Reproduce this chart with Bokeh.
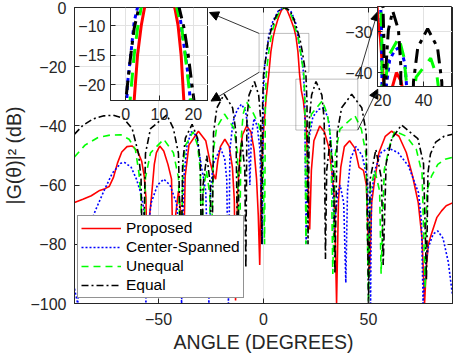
from bokeh.plotting import figure
from bokeh.models import (Range1d, FixedTicker, Legend, LegendItem, Arrow,
                          NormalHead, BoxAnnotation, GridBox, LinearAxis)
from bokeh.embed import file_html
from bokeh.resources import INLINE

FONT = "Liberation Sans"
TXT = "#262626"

# ---------------- data (angle in degrees, |G|^2 in dB)
prop_deg = [-90, -86, -82, -78, -75.5, -73.5, -71.5, -69.5, -67.5, -65, -62.5, -60, -58, -56.8, -56, -55.2,
            -54.2, -53.3, -52, -51, -49.4, -47.5, -45.5, -43.8, -42.8,
            -41.8, -40.5, -39.3, -38.3,
            -37.3, -35.5, -31, -27.5, -25.5, -24, -22.8, -21.8,
            -20.5, -18.4, -16.3, -14.8, -13.9, -13.3,
            -12.3, -11, -10, -8, -6, -4.5, -3.3, -2.5, -1.8,
            -1.2, 0, 1.2, 2.5, 3.5, 4.6, 5.5, 7, 8.5, 9.9, 11.3, 12.8, 14.6, 15.5, 16.4, 17.2, 18, 19, 20.5, 22,
            22.8, 24, 26.8, 29, 31, 32.5, 33.8, 34.8,
            35.7, 36.8, 38.5, 41, 43.5, 45.5, 47.6, 49, 50.5,
            51.5, 53, 55, 58, 61, 64.5, 68, 71, 73.7, 75.5, 76.7,
            77.5, 78.5, 80, 82.5, 84.8, 87, 90]
prop_db = [-65.9, -64.8, -63.6, -61.8, -61.2, -60.5, -57.5, -52.5, -48.8, -47, -46.8, -48.5, -52, -57, -64, -95,
           -70, -63.6, -53, -49, -46.8, -48.5, -53, -58, -95,
           -70, -62, -70, -95,
           -57, -46.5, -41.8, -45, -52, -56, -58, -52,
           -47, -44.5, -47, -54, -65, -99,
           -62, -48, -43, -40, -42, -48, -58, -70, -87,
           -60, -42, -31, -22.7, -15, -10, -7.2, -3.6, -1, 0, -1, -3.6, -7.2, -10, -15, -22.7, -28, -31.6, -42, -75,
           -55, -45, -40, -42, -47, -55, -65, -100,
           -65, -54, -47, -45, -47.5, -54, -55, -60, -90,
           -66, -58, -49, -43.5, -41.8, -43.5, -49, -57, -66, -78, -100,
           -88, -80, -76.4, -71, -68.7, -67, -66]

cs_deg = [-90, -88.5, -86.5, -83, -80, -76, -72, -68, -66, -63, -60.5, -58.5, -57, -56,
          -55, -53.5, -50.5, -47.5, -44.5, -41.5, -40, -39,
          -38, -36.5, -34.5, -33, -32, -31, -29.5, -27.5, -26,
          -25.2, -24, -20.5, -18.5, -17.5, -16.7,
          -16, -14.5, -12.5, -10.5, -8.5, -7.2, -6.5,
          -5.8, -4.5, -3, -1.7, -0.6,
          -0.1, 0.5, 1.5, 2.5, 4.5, 7, 10, 13, 15.2, 16.9, 17.8, 18.8, 19.6, 20.3,
          21.2, 23.5, 26, 28.8, 31, 32.4, 33.5, 35.5, 36.5, 38.2, 39.2,
          40, 41.5, 44, 47, 49.5, 51,
          51.4, 53, 56, 59.5, 64, 69, 73.8, 75.2, 76,
          77, 78.5, 80.8, 83, 85.5, 88, 89.5, 90]
cs_db = [-95, -100, -82, -74, -68.5, -62, -56, -52.6, -52.4, -54, -58, -62.5, -68, -100,
         -75, -66, -60, -58, -60, -66, -75, -100,
         -58, -47, -42, -42.5, -43.5, -47.4, -54, -62, -100,
         -62, -53, -47.5, -51, -58, -100,
         -48, -38.5, -34.5, -32.7, -35, -42, -60,
         -44, -37.5, -40, -48, -80,
         -30, -20, -15, -9.4, -4.5, -1.2, 0, -1.2, -4.8, -12, -15.5, -20, -30, -80,
         -46, -37, -34.5, -33.8, -38, -48, -75, -62, -60, -66, -93,
         -62, -51, -47, -50, -58, -100,
         -63.6, -55, -49, -47.5, -49, -53.5, -62.6, -72, -100,
         -88, -81, -76.5, -75.5, -78, -86, -94.5, -97]

uneq_deg = [-90, -85, -79, -73, -68, -64, -61, -59.3, -58.3, -57.5,
            -56.2, -53.8, -47.5, -42.9, -40.5, -39.2,
            -38.5, -37.2, -33.5, -31.4, -30.1, -29.4,
            -28.8, -27.2, -25.6, -25,
            -24, -22.3, -18.6, -14.2, -12.4, -11.5,
            -10.7, -9.7, -8, -5, -2, -0.3, 0.5,
            0.9, 1.3, 2.5, 3.5, 4.5, 6.2, 7.8, 10, 12.2, 13.8, 15.2, 16.6, 17.6, 19.2, 19.7, 20.2,
            21.1, 22.8, 28, 30.4, 32.1, 33,
            34.2, 36.4, 43.5, 46.6, 48.8, 50,
            50.7, 53, 55.3, 56,
            57.5, 60.2, 62.5, 68, 72.8, 75.5, 77,
            77.8, 80, 83, 86.5, 90]
uneq_db = [-50.5, -46.5, -44, -43.1, -43, -44.5, -48, -56, -65, -95,
           -57.5, -49.1, -44.5, -49.1, -57.5, -92,
           -55, -46.6, -42, -46.6, -55, -94,
           -63, -55, -63, -96,
           -49, -40.6, -36, -40.6, -49, -90,
           -45, -36, -32, -35.5, -40, -50, -80,
           -32, -22.7, -15, -10.5, -7.2, -3.6, -1, 0, -1, -3.6, -7.2, -10.5, -15, -22.7, -32, -80,
           -44.5, -36.1, -31.5, -36.1, -44.5, -90,
           -49.5, -41.1, -36.5, -41.1, -49.5, -100,
           -62, -55, -62, -90,
           -54.8, -46.4, -41.8, -43.5, -48, -56, -95,
           -62, -57, -53, -51.3, -50.6]

eq_deg = [-90, -86, -81, -76, -71.5, -66.5, -62.5, -59.5, -58.3, -57.5,
          -56.2, -53.8, -46, -42.9, -40.5, -39.2,
          -38.5, -37.2, -34, -31.4, -30.1, -29.4,
          -28.8, -27, -25.3, -24.7,
          -23.8, -22.2, -18.7, -14.7, -13.1, -12.2,
          -11.7, -10.3, -8.9, -8.4,
          -7.9, -6.9, -4.3, -2.3, -1.3, -0.8,
          -0.4, 0, 1.5, 2.5, 3.8, 5.5, 7.5, 10, 12.5, 14.3, 15.9, 17.3, 18.5, 20.2, 20.7, 21.2,
          21.8, 22.9, 25, 27.8, 28.9, 29.5,
          30.1, 31.7, 33.4, 34,
          35.1, 37.2, 42, 46.8, 48.9, 50,
          50.8, 53.5, 56.2, 57,
          58.4, 61.1, 65.7, 73.5, 76.2, 77.6,
          78.3, 79.5, 82, 86, 90]
eq_db = [-42.8, -39.8, -37.6, -36.6, -36.4, -37.5, -41, -49.4, -58, -95,
         -49.3, -40.9, -36.3, -40.9, -49.3, -90,
         -52.5, -44.1, -39.5, -44.1, -52.5, -92,
         -60, -50, -60, -95,
         -42.3, -33.9, -29.3, -33.9, -42.3, -90,
         -55, -45, -55, -88,
         -38, -29.6, -25, -29.6, -38, -80,
         -32, -22.7, -15, -10.5, -7.2, -3.6, -1, 0, -1, -3.6, -7.2, -10.5, -15, -22.7, -32, -80,
         -38, -29.6, -25, -29.6, -38, -85,
         -55, -45, -55, -90,
         -42.3, -33.9, -29.3, -33.9, -42.3, -100,
         -58, -48, -58, -87,
         -52.7, -44.3, -39.7, -44.3, -52.7, -92,
         -56, -49.5, -45.5, -43.5, -42.8]

names = ["Proposed", "Center-Spanned", "Unequal", "Equal"]
x_ticks = [-50, 0, 50]
y_ticks = [-100, -80, -60, -40, -20, 0]

# zoomed windows (main-plot boxes) and inset axis windows
box1 = (-2.1, 21.6, -21.9, -8.75)
box2 = (15.4, 44.9, -41.4, -24.2)
inset1_x, inset1_y = (-4.5, 24.5), (-22.7, -6.95)
inset2_x, inset2_y = (17.6, 54.1), (-43.4, -23.9)
inset1_xt, inset1_yt = [0, 10, 20], [-20, -15, -10]
inset2_xt, inset2_yt = [20, 40], [-40, -30]
arrows = [(-2.1, -8.75, -25.7, -1.7), (-2.1, -21.9, -25.0, -31.6),
          (44.9, -24.2, 54.4, -1.4), (44.9, -41.4, 54.4, -27.6)]

styles = [("#ff0000", "solid"), ("#0000ff", "2 2"), ("#00ff00", "7 5"), ("#000000", "7 3 2 3")]
data = [(prop_deg, prop_db), (cs_deg, cs_db), (uneq_deg, uneq_db), (eq_deg, eq_db)]


def style_axes(fig, fs):
    for ax in (fig.xaxis[0], fig.yaxis[0]):
        ax.major_label_text_font = FONT
        ax.major_label_text_font_size = fs
        ax.major_label_text_color = TXT
        ax.axis_line_color = TXT
        ax.major_tick_line_color = TXT
        ax.major_tick_in = 5
        ax.major_tick_out = 0
        ax.minor_tick_line_color = None
    fig.grid.grid_line_color = "#e2e2e2"
    fig.outline_line_color = TXT
    fig.outline_line_alpha = 1.0


p = figure(width=474, height=355, x_range=Range1d(-90, 90), y_range=Range1d(-100, 0),
           output_backend="svg", toolbar_location=None,
           min_border_left=73, min_border_right=22, min_border_top=7, min_border_bottom=52)
style_axes(p, "16px")
p.xaxis.ticker = FixedTicker(ticks=x_ticks)
p.yaxis.ticker = FixedTicker(ticks=y_ticks)
p.xaxis.major_label_standoff = 9
p.yaxis.major_label_standoff = 8
p.xaxis.axis_label = "ANGLE (DEGREES)"
p.yaxis.axis_label = "|G(θ)|² (dB)"
for ax in (p.xaxis[0], p.yaxis[0]):
    ax.axis_label_text_font = FONT
    ax.axis_label_text_font_size = "19.5px"
    ax.axis_label_text_font_style = "normal"
    ax.axis_label_text_color = TXT
p.xaxis.axis_label_standoff = 3
p.yaxis.axis_label_standoff = 2

# box ticks on the top and right edges (no labels)
for loc, ticks in (("above", x_ticks), ("right", y_ticks)):
    bax = LinearAxis(ticker=FixedTicker(ticks=ticks),
                     major_label_overrides={t: "" for t in ticks},
                     major_label_standoff=0, major_tick_in=5, major_tick_out=0,
                     minor_tick_line_color=None, axis_line_color=TXT,
                     major_tick_line_color=TXT)
    p.add_layout(bax, loc)

items = []
for name, (xs, ys), (col, dash) in zip(names, data, styles):
    r = p.line(xs, ys, line_color=col, line_dash=dash, line_width=1.6)
    items.append(LegendItem(label=name, renderers=[r]))

for (x0, x1, y0, y1) in (box1, box2):
    p.add_layout(BoxAnnotation(left=x0, right=x1, bottom=y0, top=y1, fill_alpha=0,
                               line_color=TXT, line_width=1))
for (xs, ys, xe, ye) in arrows:
    p.add_layout(Arrow(end=NormalHead(size=9, fill_color="black", line_color="black"),
                       x_start=xs, y_start=ys, x_end=xe, y_end=ye,
                       line_color="black", line_width=0.8))

leg = Legend(items=items, location=(3, 5), padding=3, spacing=1, margin=0,
             glyph_width=40, glyph_height=18, label_height=18, label_standoff=5,
             label_text_font=FONT, label_text_font_size="15.5px", label_text_color="black",
             border_line_color=TXT, border_line_width=1, background_fill_alpha=1.0)
p.add_layout(leg)


def make_inset(xr, yr, xt, yt, w, h, bl, bb):
    f = figure(width=w, height=h, x_range=Range1d(*xr), y_range=Range1d(*yr),
               output_backend="svg", toolbar_location=None,
               min_border_left=bl, min_border_bottom=bb, min_border_top=0, min_border_right=0,
               border_fill_color=None, background_fill_color="white")
    style_axes(f, "16px")
    f.xaxis.ticker = FixedTicker(ticks=xt)
    f.yaxis.ticker = FixedTicker(ticks=yt)
    f.xaxis.major_label_standoff = 7
    f.yaxis.major_label_standoff = 5
    for (xs, ys), (col, dash) in zip(data, styles):
        d = dash if dash == "solid" else " ".join(str(int(v) * 2) for v in dash.split())
        f.line(xs, ys, line_color=col, line_dash=d, line_width=3)
    return f


ins1 = make_inset(inset1_x, inset1_y, inset1_xt, inset1_yt, 134, 120, 36, 27)
ins2 = make_inset(inset2_x, inset2_y, inset2_xt, inset2_yt, 111, 108, 36, 28)

grid = GridBox(children=[(p, 0, 0, 5, 5), (ins2, 1, 3, 2, 1), (ins1, 2, 1, 2, 1)],
               rows=["6px", "1px", "107px", "13px", "228px"],
               cols=["74px", "134px", "133px", "111px", "22px"],
               width=474, height=355)
open("out.html", "w").write(file_html(grid, INLINE))
